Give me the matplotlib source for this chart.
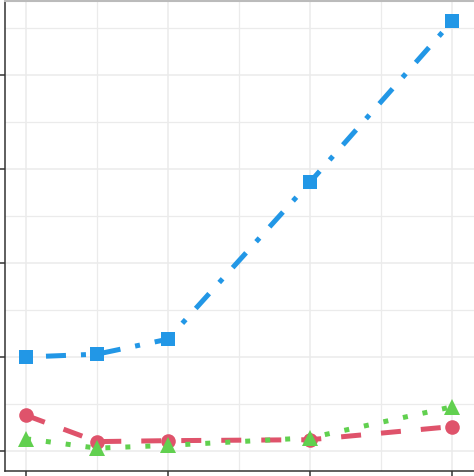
import matplotlib

matplotlib.use("Agg")

import matplotlib.pyplot as plt
from matplotlib.ticker import MultipleLocator

# values (no tick labels are shown)
x = [0, 0.5, 1, 2, 3]
red_vals = [0.38, 0.10, 0.11, 0.12, 0.26]
green_vals = [0.13, 0.03, 0.06, 0.14, 0.47]
blue_vals = [1.00, 1.03, 1.19, 2.86, 4.57]

series = [
    (red_vals, "#DF536B", (4, 4), "o", 10.5),
    (green_vals, "#61D04F", (1, 3), "^", 12),
    (blue_vals, "#2297E6", (1, 3, 4, 3), "s", 10.5),
]

W, H = 474, 476
fig = plt.figure(figsize=(W / 100, H / 100), dpi=100)
ax = fig.add_axes([5 / W, 5 / H, (W - 5) / W, (H - 6) / H])

lw = 3.6
for vals, color, dash, _, _ in series:
    ax.plot(x, vals, color=color, lw=lw, dashes=dash, dash_capstyle="butt",
            solid_capstyle="butt", zorder=3)
for vals, color, _, marker, ms in series:
    ax.plot(x, vals, linestyle="none", marker=marker, markersize=ms,
            color=color, markeredgewidth=0, zorder=4)

ax.set_xlim(-21 / 142, (W - 26) / 142)
ax.set_ylim(-20 / 94, 450 / 94)

ax.xaxis.set_major_locator(MultipleLocator(1))
ax.xaxis.set_minor_locator(MultipleLocator(0.5))
ax.yaxis.set_major_locator(MultipleLocator(1))
ax.yaxis.set_minor_locator(MultipleLocator(0.5))

ax.grid(which="major", color="#EBEBEB", lw=1.1, zorder=0)
ax.grid(which="minor", color="#EBEBEB", lw=0.9, zorder=0)
ax.set_axisbelow(True)

ax.tick_params(which="major", length=3.6, width=1.1, color="#333333",
               labelleft=False, labelbottom=False)
ax.tick_params(which="minor", length=0)

for side in ["left", "bottom"]:
    ax.spines[side].set_color("#333333")
    ax.spines[side].set_linewidth(1.1)
ax.spines["top"].set_color("#BBBBBB")
ax.spines["top"].set_linewidth(1.5)
ax.spines["right"].set_visible(False)

fig.savefig("out.png", dpi=100)
